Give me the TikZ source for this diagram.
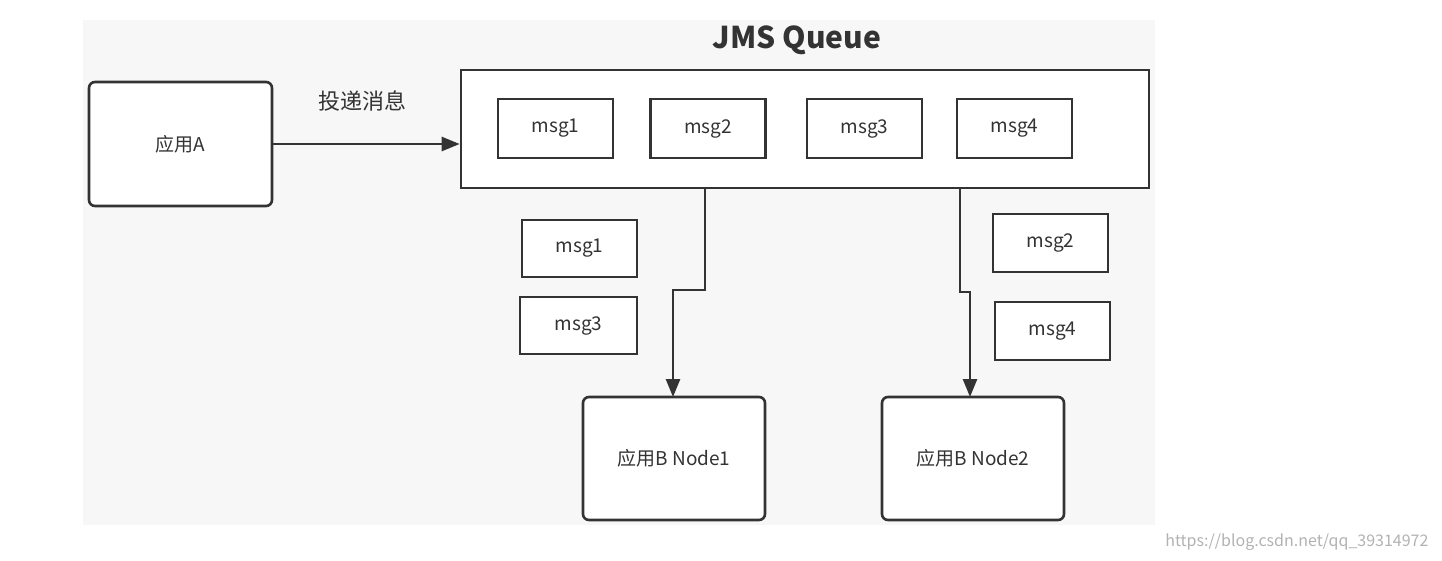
\documentclass[tikz,border=0pt]{standalone}
\usepackage{fontspec}
\setmainfont{Noto Sans CJK SC}
\usetikzlibrary{arrows.meta}
\definecolor{ln}{HTML}{333333}
\definecolor{bg}{HTML}{F7F7F7}
\begin{document}
\begin{tikzpicture}[x=1pt,y=-1pt,
 box/.style={draw=ln,line width=2.6pt,fill=white,inner sep=0pt,font=\fontsize{19}{22}\selectfont,text=ln},
 rbox/.style={box,rounded corners=6pt},
 arr/.style={draw=ln,line width=2.6pt,-{Triangle[length=18pt,width=14pt]}}]
\useasboundingbox (0,0) rectangle (1442,560);
\fill[bg] (83,20) rectangle (1155,525);
\node[rbox,minimum width=183pt,minimum height=124pt] (A) at (180.5,144) {应用A};
\node[box,minimum width=688pt,minimum height=118pt] (Q) at (805,129) {};
\node[font=\bfseries\fontsize{30}{34}\selectfont,text=ln] (title) at (797,40) {JMS Queue};
\foreach \n/\x/\t in {q1/555.5/msg1,q2/708/msg2,q3/864.5/msg3,q4/1014.5/msg4}{
 \node[box,minimum width=115pt,minimum height=59pt] (\n) at (\x,128.5) {\t};}
\draw[arr] (A.east) -- (Q.west|-A.east);
\node[font=\fontsize{22}{26}\selectfont,text=ln] (lab) at (362,101) {投递消息};
\node[rbox,minimum width=182pt,minimum height=123pt] (B1) at (674,458.5) {应用B Node1};
\node[rbox,minimum width=182pt,minimum height=123pt] (B2) at (973,458.5) {应用B Node2};
\coordinate (s1) at (705,188); \coordinate (s2) at (960,188);
\draw[arr] (s1) -- (705,290) -- (673,290) -- (673,397);
\draw[arr] (s2) -- (960,292) -- (970,292) -- (970,397);
\node[box,minimum width=115pt,minimum height=57pt] (m1) at (579.5,248.5) {msg1};
\node[box,minimum width=117pt,minimum height=57pt] (m3) at (578.5,325.5) {msg3};
\node[box,minimum width=115pt,minimum height=58pt] (m2) at (1050.5,243) {msg2};
\node[box,minimum width=115pt,minimum height=58pt] (m4) at (1052.5,331) {msg4};
\node[anchor=east,text=gray!60,font=\fontsize{16}{18}\selectfont] (wm) at (1432,542) {https://blog.csdn.net/qq\_39314972};
\end{tikzpicture}
\end{document}
